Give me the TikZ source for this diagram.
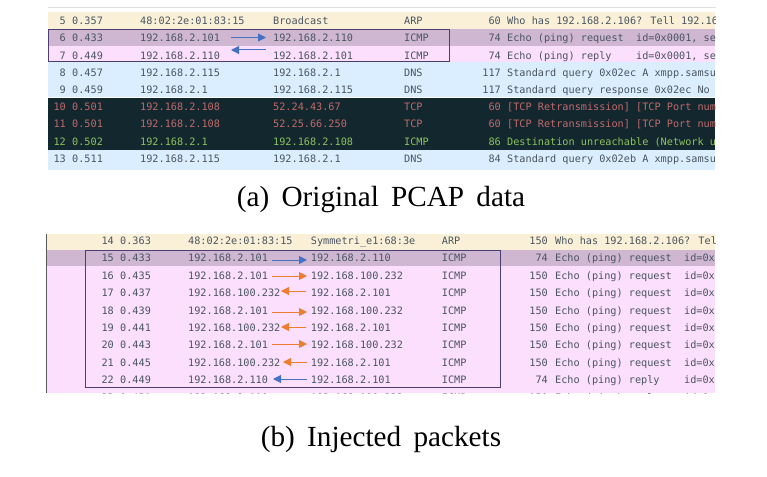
\documentclass[tikz,border=0pt]{standalone}
\usepackage{fontspec}
\setmainfont{Liberation Serif}
\newfontfamily\wsfont{DejaVu Sans Mono}
\newfontfamily\capfont[WordSpace=1.68]{Liberation Serif}
\usetikzlibrary{arrows.meta}
\definecolor{arpbg}{HTML}{FAF0D7}
\definecolor{selbg}{HTML}{CFB7D2}
\definecolor{pinkbg}{HTML}{FBDFFC}
\definecolor{dnsbg}{HTML}{DAEEFF}
\definecolor{darkbg}{HTML}{12272E}
\definecolor{txt}{HTML}{4A5560}
\definecolor{redt}{HTML}{C26A6A}
\definecolor{grnt}{HTML}{8FC45E}
\definecolor{boxc}{HTML}{4A3F70}
\definecolor{blueA}{HTML}{4472C4}
\definecolor{orngA}{HTML}{ED7D31}
\tikzset{
  x=1pt,y=-1pt,
  cell/.style={anchor=base west,inner sep=0pt,font=\wsfont\fontsize{10.2}{12}\selectfont,text=txt},
  rcell/.style={cell,anchor=base east},
  captext/.style={anchor=base,inner sep=0pt,font=\capfont\fontsize{29.2}{34}\selectfont,text=black},
  mark box/.style={draw=boxc,line width=0.9pt},
  flow/.style={line width=1pt,-{Triangle[length=8pt,width=8pt]}},
}
% #1 baseline y, #2 no, #3 time, #4 src, #5 dst, #6 proto, #7 len, #8 info, #9 colour
\newcommand{\rowA}[9]{%
  \node[rcell,text=#9] at (66,#1) {#2};
  \node[cell,text=#9] at (72,#1) {#3};
  \node[cell,text=#9] at (140,#1) {#4};
  \node[cell,text=#9] at (273,#1) {#5};
  \node[cell,text=#9] at (404,#1) {#6};
  \node[rcell,text=#9] at (501,#1) {#7};
  \node[cell,text=#9] at (507,#1) {#8};
}
\newcommand{\rowB}[9]{%
  \node[rcell,text=#9] at (114,#1) {#2};
  \node[cell,text=#9] at (120,#1) {#3};
  \node[cell,text=#9] at (188,#1) {#4};
  \node[cell,text=#9] at (310.7,#1) {#5};
  \node[cell,text=#9] at (441.7,#1) {#6};
  \node[rcell,text=#9] at (548,#1) {#7};
  \node[cell,text=#9] at (555,#1) {#8};
}
\newcommand{\flowarrow}[6]{% name, colour, from x, to x, y
  \coordinate (#1s) at (#3,#5);
  \coordinate (#1e) at (#4,#6);
  \draw[flow,#2] (#1s) -- (#1e);
}
\begin{document}
\begin{tikzpicture}
\useasboundingbox (0,0) rectangle (767,476);
\fill[white] (0,0) rectangle (767,476);
% ---------- top capture
\draw[black!12,line width=0.8pt] (48,7) -- (716,7);
\fill[arpbg] (48,12) rectangle (715,29);
\fill[selbg] (48,29) rectangle (715,46);
\fill[pinkbg] (48,46) rectangle (715,62);
\fill[dnsbg] (48,62) rectangle (715,97.5);
\fill[darkbg] (48,98) rectangle (715,150);
\fill[dnsbg] (48,150) rectangle (715,170);
\begin{scope}
\clip (48,12) rectangle (715,170);
\rowA{24.7}{5}{0.357}{48:02:2e:01:83:15}{Broadcast}{ARP}{60}{Who has 192.168.2.106? Tell 192.16}{txt}
\rowA{41.9}{6}{0.433}{192.168.2.101}{192.168.2.110}{ICMP}{74}{Echo (ping) request\ \ id=0x0001, se}{txt}
\rowA{59.1}{7}{0.449}{192.168.2.110}{192.168.2.101}{ICMP}{74}{Echo (ping) reply\ \ \ \ id=0x0001, se}{txt}
\rowA{76.3}{8}{0.457}{192.168.2.115}{192.168.2.1}{DNS}{117}{Standard query 0x02ec A xmpp.samsu}{txt}
\rowA{93.5}{9}{0.459}{192.168.2.1}{192.168.2.115}{DNS}{117}{Standard query response 0x02ec No}{txt}
\rowA{110.7}{10}{0.501}{192.168.2.108}{52.24.43.67}{TCP}{60}{[TCP Retransmission] [TCP Port num}{redt}
\rowA{127.9}{11}{0.501}{192.168.2.108}{52.25.66.250}{TCP}{60}{[TCP Retransmission] [TCP Port num}{redt}
\rowA{145.1}{12}{0.502}{192.168.2.1}{192.168.2.108}{ICMP}{86}{Destination unreachable (Network u}{grnt}
\rowA{162.3}{13}{0.511}{192.168.2.115}{192.168.2.1}{DNS}{84}{Standard query 0x02eb A xmpp.samsu}{txt}
\end{scope}
\draw[mark box] (48.5,29) rectangle (449,61.5);
\flowarrow{a1}{blueA}{231}{266}{37.5}{37.5}
\flowarrow{a2}{blueA}{266}{231}{50}{50}
\node[captext] (capA) at (381,206) {(a) Original PCAP data};
% ---------- bottom capture
\fill[arpbg] (47,234) rectangle (715,250);
\fill[pinkbg] (47,250) rectangle (715,393);
\fill[selbg] (47,250) rectangle (715,266);
\draw[black!65,line width=0.8pt] (46.5,234) -- (46.5,393);
\begin{scope}
\clip (47,234) rectangle (715,393);
\rowB{244.4}{14}{0.363}{48:02:2e:01:83:15}{Symmetri\_e1:68:3e}{ARP}{150}{Who has 192.168.2.106? Tel}{txt}
\rowB{261.8}{15}{0.433}{192.168.2.101}{192.168.2.110}{ICMP}{74}{Echo (ping) request\ \ id=0x}{txt}
\rowB{279.2}{16}{0.435}{192.168.2.101}{192.168.100.232}{ICMP}{150}{Echo (ping) request\ \ id=0x}{txt}
\rowB{296.6}{17}{0.437}{192.168.100.232}{192.168.2.101}{ICMP}{150}{Echo (ping) request\ \ id=0x}{txt}
\rowB{314}{18}{0.439}{192.168.2.101}{192.168.100.232}{ICMP}{150}{Echo (ping) request\ \ id=0x}{txt}
\rowB{331.4}{19}{0.441}{192.168.100.232}{192.168.2.101}{ICMP}{150}{Echo (ping) request\ \ id=0x}{txt}
\rowB{348.8}{20}{0.443}{192.168.2.101}{192.168.100.232}{ICMP}{150}{Echo (ping) request\ \ id=0x}{txt}
\rowB{366.2}{21}{0.445}{192.168.100.232}{192.168.2.101}{ICMP}{150}{Echo (ping) request\ \ id=0x}{txt}
\rowB{383.6}{22}{0.449}{192.168.2.110}{192.168.2.101}{ICMP}{74}{Echo (ping) reply\ \ \ \ id=0x}{txt}
\rowB{401}{23}{0.451}{192.168.2.110}{192.168.100.232}{ICMP}{150}{Echo (ping) reply\ \ \ \ id=0x}{txt}
\end{scope}
\draw[mark box] (85.7,250.7) rectangle (500.7,387);
\flowarrow{b1}{blueA}{272}{307}{260}{260}
\flowarrow{b2}{orngA}{272}{307}{276}{276}
\flowarrow{b3}{orngA}{306}{281}{291}{291}
\flowarrow{b4}{orngA}{272}{307}{312}{312}
\flowarrow{b5}{orngA}{306}{281}{327}{327}
\flowarrow{b6}{orngA}{272}{307}{344}{344}
\flowarrow{b7}{orngA}{307}{283}{362}{362}
\flowarrow{b8}{blueA}{307}{273}{379}{379}
\node[captext] (capB) at (381,446) {(b) Injected packets};
\end{tikzpicture}
\end{document}
